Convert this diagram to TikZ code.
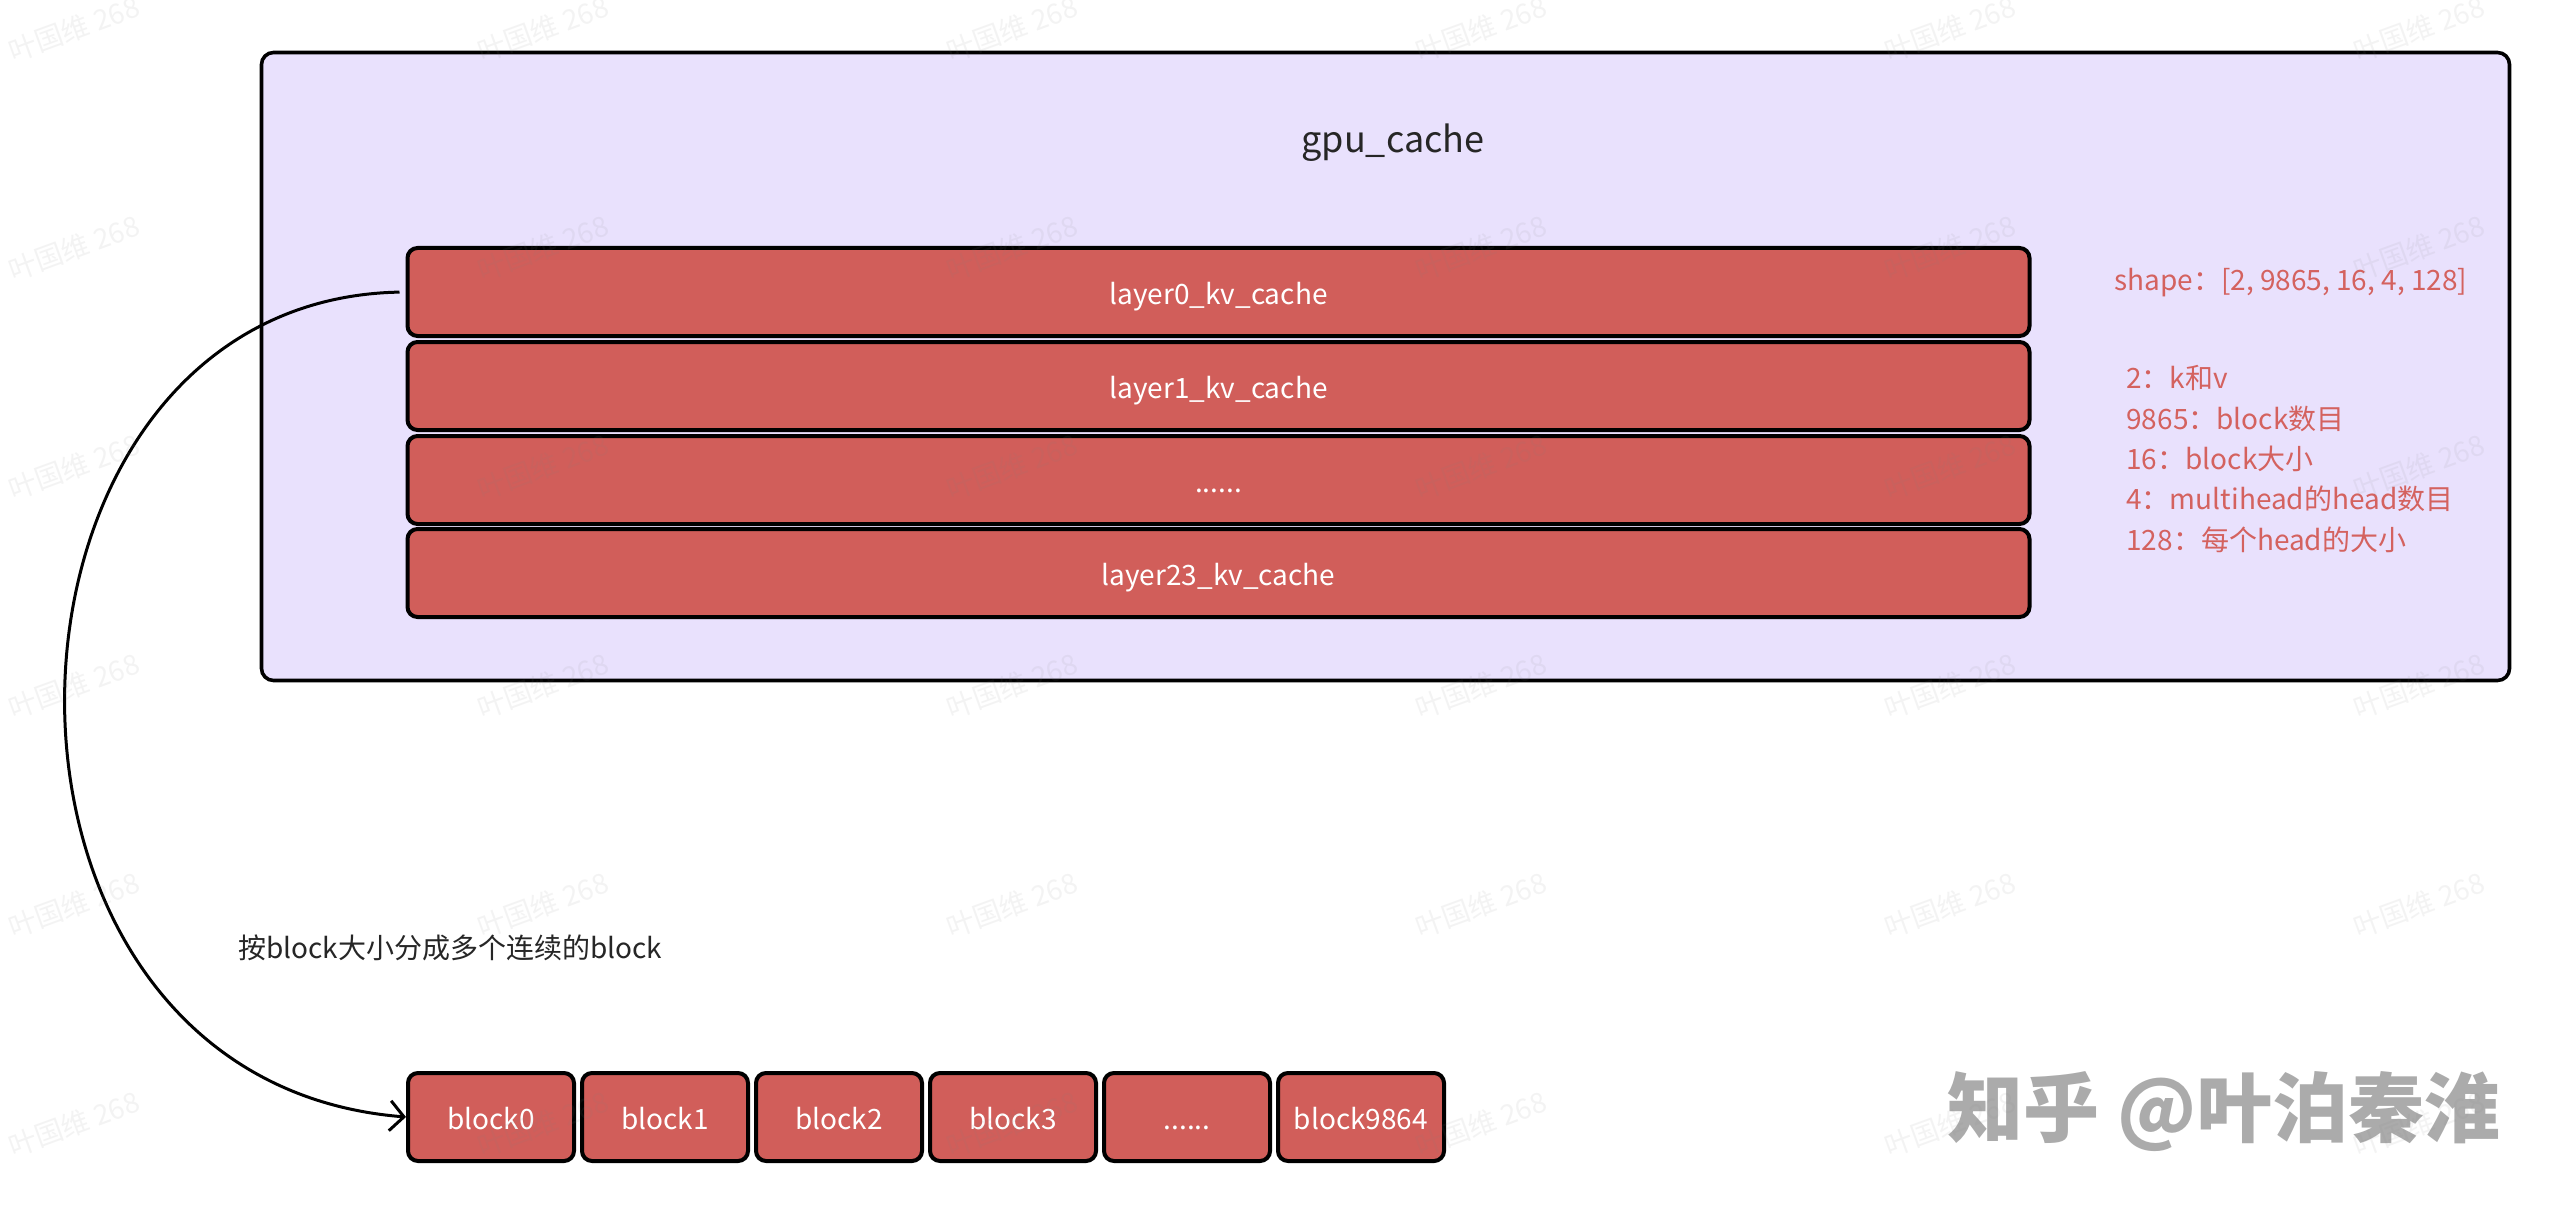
\documentclass[tikz,border=0pt]{standalone}
\usepackage{fontspec}
\setmainfont{Noto Sans CJK SC}
\usetikzlibrary{arrows.meta}
\definecolor{boxpurple}{HTML}{E9E1FD}
\definecolor{barred}{HTML}{D15E5A}
\definecolor{notered}{HTML}{D4625F}
\begin{document}
\begin{tikzpicture}[x=0.5pt,y=-0.5pt,
  bar/.style={draw=black, line width=2pt, fill=barred, rounded corners=5pt,
    minimum width=811pt, minimum height=44pt, inner sep=0pt, text=white,
    text height=12.8pt, text depth=0pt,
    font=\fontsize{14}{16}\selectfont},
  blk/.style={draw=black, line width=2pt, fill=barred, rounded corners=5pt,
    minimum width=83pt, minimum height=44pt, inner sep=0pt, text=white,
    text height=12pt, text depth=0pt,
    font=\fontsize{14}{16}\selectfont},
  note/.style={text=notered, anchor=west, inner sep=0pt,
    text height=10pt, text depth=0pt,
    font=\fontsize{14}{16}\selectfont},
  wm/.style={text=gray, text opacity=0.09, rotate=20,
    font=\fontsize{14}{16}\selectfont},
]
\useasboundingbox[fill=white] (0,0) rectangle (2564,1214);

% outer container
\node[draw=black, line width=1.8pt, fill=boxpurple, rounded corners=6pt,
  minimum width=1124pt, minimum height=314pt, inner sep=0pt] (gpu) at (1385.5,366.5) {};
\node[font=\fontsize{18}{20}\selectfont, text=black!85, text height=13.6pt, text depth=0pt] (title) at (1393,139) {gpu\_cache};

% layer bars
\node[bar] (bar0) at (1218.5,292) {layer0\_kv\_cache};
\node[bar] (bar1) at (1218.5,386) {layer1\_kv\_cache};
\node[bar] (bar2) at (1218.5,480) {......};
\node[bar] (bar3) at (1218.5,573) {layer23\_kv\_cache};

% notes
\node[note] (shape) at (2114,281) {shape：[2, 9865, 16, 4, 128]};
\node[note] (n1) at (2126,378) {2：k和v};
\node[note] (n2) at (2126,419) {9865：block数目};
\node[note] (n3) at (2126,459) {16：block大小};
\node[note] (n4) at (2126,499) {4：multihead的head数目};
\node[note] (n5) at (2126,540) {128：每个head的大小};

% blocks
\node[blk] (b0) at (491,1117) {block0};
\node[blk] (b1) at (665,1117) {block1};
\node[blk] (b2) at (839,1117) {block2};
\node[blk] (b3) at (1013,1117) {block3};
\node[blk] (b4) at (1187,1117) {......};
\node[blk] (b5) at (1361,1117) {block9864};

% label
\node[font=\fontsize{14}{16}\selectfont, text=black!85, text height=10pt, text depth=0pt] (lbl) at (450,948) {按block大小分成多个连续的block};

% connector
\draw[line width=1.5pt, shorten <=3pt, -{Straight Barb[length=7pt,width=15pt,line width=1.5pt]}]
  (bar0.west) .. controls (-35,300) and (-60,1080) .. (b0.west);

% watermark
\node[font=\fontsize{38}{42}\selectfont\bfseries, text=black!33] (zh) at (2224,1112) {知乎 @叶泊秦淮};

% faint tiled watermark
\foreach \i in {0,...,5}{
  \foreach \j in {0,...,5}{
    \node[wm] (w\i\j) at (74+469*\i, 29+219*\j) {叶国维 268};
  }
}
\end{tikzpicture}
\end{document}
